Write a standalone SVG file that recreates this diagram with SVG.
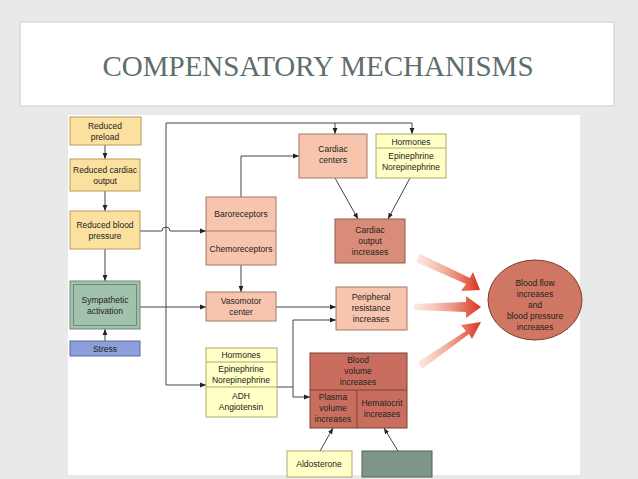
<svg xmlns="http://www.w3.org/2000/svg" width="638" height="479" viewBox="0 0 638 479">
<defs>
<style>
text{font-family:"Liberation Sans",Arial,sans-serif;font-size:8.5px;fill:#222;text-anchor:middle}
.t{font-family:"Liberation Serif","Times New Roman",serif;font-size:29px;fill:#5d6e6c}
.y{fill:#fbe0a0;stroke:#b89a5a}
.s{fill:#f7c5ad;stroke:#a47b6a}
.d{fill:#d98c78;stroke:#8f5a4c}
.b{fill:#c96e5e;stroke:#7a4034}
.ly{fill:#ffffc6;stroke:#b0a870}
.c{fill:none;stroke:#444;stroke-width:1}
.m{marker-end:url(#a)}
</style>
<marker id="a" viewBox="0 0 10 10" refX="10" refY="5" markerWidth="6" markerHeight="6" orient="auto"><path d="M0,1L10,5L0,9z" fill="#222"/></marker>
<linearGradient id="r" x1="0" x2="1"><stop offset="0" stop-color="#f4b89a" stop-opacity="0.3"/><stop offset="1" stop-color="#d8301c"/></linearGradient>
</defs>
<rect width="638" height="479" fill="#e9e9e9"/>
<rect x="20" y="22" width="594" height="84" fill="#fff" stroke="#ccc"/>
<text class="t" x="318" y="76">COMPENSATORY MECHANISMS</text>
<rect x="68" y="115" width="512" height="360" fill="#fff"/>
<g id="connectors">
<path class="c m" d="M105,145V159"/>
<path class="c m" d="M105,191V211"/>
<path class="c m" d="M105,249V281"/>
<path class="c m" d="M105,341V329"/>
<path class="c m" d="M140,231H162a4,4 0 0 1 8,0H206"/>
<path class="c m" d="M166,385V123H412V134"/>
<path class="c m" d="M335,123V134"/>
<path class="c m" d="M166,385H206"/>
<path class="c m" d="M241,197V156H299"/>
<path class="c m" d="M241,265V292"/>
<path class="c m" d="M140,307H206"/>
<path class="c m" d="M276,307H336"/>
<path class="c m" d="M277,387H293V397H310"/>
<path class="c m" d="M293,387V320H336"/>
<path class="c m" d="M335,178L358,219"/>
<path class="c m" d="M410,178L388,219"/>
<path class="c m" d="M320,451L333,428"/>
<path class="c m" d="M398,451L384,428"/>
<path d="M420,254L470,278L473,272L480,290L461,291L466,284L416,262z" fill="url(#r)"/>
<path d="M414,304L466,302V296L481,307L466,318V312L414,310z" fill="url(#r)"/>
<path d="M418,362L466,331L461,325L481,322L472,339L469,334L422,369z" fill="url(#r)"/>
</g>
<g id="preload"><rect class="y" x="70" y="117" width="71" height="28"/><text x="105" y="129">Reduced</text><text x="105" y="140">preload</text></g>
<g id="cardiacout"><rect class="y" x="70" y="159" width="70" height="32"/><text x="105" y="173">Reduced cardiac</text><text x="105" y="184">output</text></g>
<g id="bp"><rect class="y" x="70" y="211" width="70" height="38"/><text x="105" y="228">Reduced blood</text><text x="105" y="239">pressure</text></g>
<g id="symp"><rect x="70" y="281" width="70" height="48" fill="#a3c2ae" stroke="#6c8a78"/><rect x="73.5" y="284.5" width="63" height="41" fill="none" stroke="#6c8a78"/><text x="105" y="303">Sympathetic</text><text x="105" y="314">activation</text></g>
<g id="stress"><rect x="70" y="341" width="70" height="15" fill="#8c9fd8" stroke="#5a6aa0"/><text x="105" y="352">Stress</text></g>
<g id="baro"><rect class="s" x="206" y="197" width="70" height="68"/><line x1="206" y1="231" x2="276" y2="231" stroke="#a47b6a"/><text x="241" y="217">Baroreceptors</text><text x="241" y="252">Chemoreceptors</text></g>
<g id="cardiaccenters"><rect class="s" x="299" y="134" width="68" height="44"/><text x="333" y="152">Cardiac</text><text x="333" y="163">centers</text></g>
<g id="hormones1"><rect class="ly" x="376" y="134" width="70" height="44"/><line x1="376" y1="148" x2="446" y2="148" stroke="#b0a870"/><text x="411" y="145">Hormones</text><text x="411" y="159">Epinephrine</text><text x="411" y="170">Norepinephrine</text></g>
<g id="coi"><rect class="d" x="335" y="219" width="70" height="44"/><text x="370" y="233">Cardiac</text><text x="370" y="244">output</text><text x="370" y="255">increases</text></g>
<g id="vaso"><rect class="s" x="206" y="292" width="70" height="29"/><text x="241" y="304">Vasomotor</text><text x="241" y="315">center</text></g>
<g id="periph"><rect class="s" x="336" y="287" width="71" height="43"/><text x="371" y="300">Peripheral</text><text x="371" y="311">resistance</text><text x="371" y="322">increases</text></g>
<g id="result"><ellipse cx="535" cy="300" rx="47" ry="40" fill="#cf7763" stroke="#7a4034"/><text x="535" y="286">Blood flow</text><text x="535" y="297">increases</text><text x="535" y="308">and</text><text x="535" y="319">blood pressure</text><text x="535" y="330">increases</text></g>
<g id="hormones2"><rect class="ly" x="206" y="348" width="71" height="69"/><line x1="206" y1="362" x2="277" y2="362" stroke="#b0a870"/><line x1="206" y1="387" x2="277" y2="387" stroke="#b0a870"/><text x="241" y="358">Hormones</text><text x="241" y="372">Epinephrine</text><text x="241" y="383">Norepinephrine</text><text x="241" y="399">ADH</text><text x="241" y="410">Angiotensin</text></g>
<g id="bv"><rect class="b" x="310" y="353" width="97" height="75"/><line x1="310" y1="390" x2="407" y2="390" stroke="#7a4034"/><line x1="357" y1="390" x2="357" y2="428" stroke="#7a4034"/><text x="358" y="363">Blood</text><text x="358" y="374">volume</text><text x="358" y="385">increases</text><text x="333" y="400">Plasma</text><text x="333" y="411">volume</text><text x="333" y="422">increases</text><text x="382" y="406">Hematocrit</text><text x="382" y="417">increases</text></g>
<g id="aldo"><rect class="ly" x="287" y="451" width="65" height="26"/><text x="319" y="467">Aldosterone</text></g>
<g id="green"><rect x="362" y="451" width="70" height="26" fill="#7f958a" stroke="#4f6258"/></g>
</svg>
